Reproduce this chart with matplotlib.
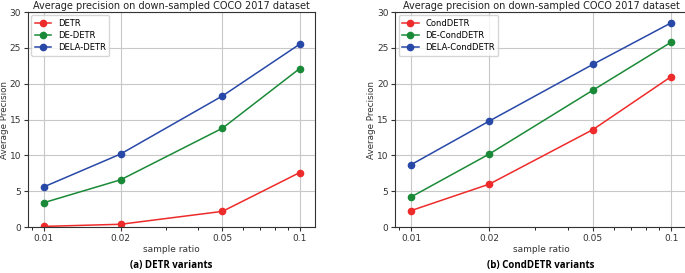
import matplotlib.pyplot as plt
from matplotlib.ticker import NullFormatter

ratios = [0.01, 0.02, 0.05, 0.1]
tick_labels = ['0.01', '0.02', '0.05', '0.1']

# (a) DETR variants
detr = [0.1, 0.4, 2.2, 7.6]
de_detr = [3.4, 6.6, 13.8, 22.1]
dela_detr = [5.6, 10.2, 18.3, 25.5]

# (b) CondDETR variants
cond_detr = [2.3, 6.0, 13.6, 21.0]
de_cond_detr = [4.2, 10.2, 19.1, 25.8]
dela_cond_detr = [8.7, 14.8, 22.7, 28.5]

colors = ['#ee2b2b', '#1b8a38', '#2848a8']

fig = plt.figure(figsize=(6.85, 2.73), dpi=100)
ax1 = fig.add_axes([0.041, 0.168, 0.419, 0.788])
ax2 = fig.add_axes([0.577, 0.168, 0.426, 0.788])


def draw(ax, series, names, caption):
    for vals, name, c in zip(series, names, colors):
        ax.plot(ratios, vals, marker='o', markersize=4.5, color=c, lw=1.1, label=name)
    ax.set_xscale('log')
    ax.set_xticks(ratios)
    ax.set_xticklabels(tick_labels)
    ax.xaxis.set_minor_formatter(NullFormatter())
    ax.set_xlim(0.0087, 0.115)
    ax.set_ylim(0, 30)
    ax.set_yticks([0, 5, 10, 15, 20, 25, 30])
    ax.grid(True, which='major', color='#c8c8c8', lw=0.8)
    ax.tick_params(labelsize=6.5, length=3, pad=2, colors='#333333')
    ax.tick_params(which='minor', length=1.8)
    for s in ax.spines.values():
        s.set_color('#333333')
    ax.set_xlabel('sample ratio', fontsize=6.5, color='#333333', labelpad=1.5)
    ax.set_ylabel('Average Precision', fontsize=6.3, color='#333333')
    ax.yaxis.set_label_coords(-0.067, 0.5)
    ax.set_title('Average precision on down-sampled COCO 2017 dataset',
                 fontsize=7.0, color='#222222', pad=2)
    ax.legend(loc='upper left', fontsize=6.0, frameon=True, borderaxespad=0.4,
              handlelength=2.0, labelspacing=0.4)
    ax.text(0.5, -0.155, caption, transform=ax.transAxes, ha='center', va='top',
            fontsize=7.0, fontweight='bold', family='Open Sans')


draw(ax1, [detr, de_detr, dela_detr], ['DETR', 'DE-DETR', 'DELA-DETR'],
     '(a) DETR variants')
draw(ax2, [cond_detr, de_cond_detr, dela_cond_detr],
     ['CondDETR', 'DE-CondDETR', 'DELA-CondDETR'], '(b) CondDETR variants')

fig.savefig('out.png', dpi=100)
